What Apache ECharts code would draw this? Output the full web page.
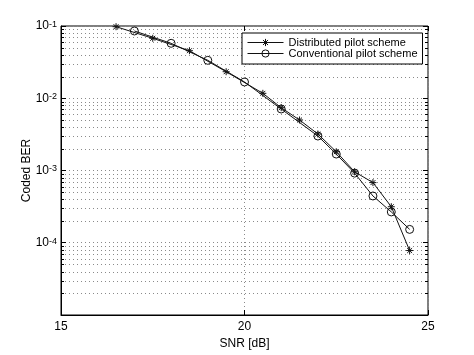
<!DOCTYPE html>
<html>
<head>
<meta charset="utf-8">
<script src="https://cdn.jsdelivr.net/npm/echarts@6/dist/echarts.min.js"></script>
<style>html,body{margin:0;padding:0;background:#fff;}#c{width:474px;height:355px;}</style>
</head>
<body>
<div id="c"></div>
<script>
// Data
const distSNR = [16.5, 17.5, 18.5, 19.5, 20.5, 21.0, 21.5, 22.0, 22.5, 23.0, 23.5, 24.0, 24.5];
const distBER = [0.0978, 0.0676, 0.0455, 0.0233, 0.0117, 0.0074, 0.0050, 0.0032, 0.00182, 0.00096, 0.00068, 0.000315, 0.000078];
const convSNR = [17.0, 18.0, 19.0, 20.0, 21.0, 22.0, 22.5, 23.0, 23.5, 24.0, 24.5];
const convBER = [0.0853, 0.0576, 0.0335, 0.0168, 0.0071, 0.0030, 0.00169, 0.00092, 0.000444, 0.000267, 0.000153];
const seriesNames = ['Distributed pilot scheme', 'Conventional pilot scheme'];
const xTicks = [15, 20, 25];
const yDecades = [-5, -4, -3, -2, -1];

const X_MIN = 15, X_MAX = 25;
const FONT = "'Liberation Sans', Arial, sans-serif";

// minor grid positions on the log axis (2..9 x 10^e)
const minorVals = [];
for (let i = 0; i < yDecades.length - 1; i++) {
  for (let k = 2; k <= 9; k++) minorVals.push([X_MIN, k * Math.pow(10, yDecades[i])]);
}

const chart = echarts.init(document.getElementById('c'), null, {renderer: 'canvas'});
const starPath = 'path://M0,5L10,5M5,0L5,10M1.5,1.5L8.5,8.5M8.5,1.5L1.5,8.5';
const gridDot = {color: '#8a8a8a', width: 1, type: [1, 3]};

chart.setOption({
  backgroundColor: '#fff',
  animation: false,
  textStyle: {fontFamily: FONT},
  grid: {left: 61, top: 26, width: 367, height: 289, show: true, borderColor: '#000', borderWidth: 1, backgroundColor: 'transparent'},
  legend: {
    data: seriesNames,
    orient: 'vertical',
    left: 242, top: 33,
    padding: [4, 5, 5, 5],
    itemGap: 0,
    itemWidth: 36, itemHeight: 9,
    backgroundColor: '#fff',
    borderColor: '#000', borderWidth: 1,
    lineStyle: {width: 1, color: '#111'},
    itemStyle: {borderWidth: 1},
    textStyle: {fontFamily: FONT, fontSize: 11, color: '#000'}
  },
  xAxis: [{
    type: 'value', min: X_MIN, max: X_MAX, interval: 5,
    name: 'SNR [dB]', nameLocation: 'middle', nameGap: 18,
    nameTextStyle: {fontFamily: FONT, fontSize: 12, color: '#000'},
    axisLine: {lineStyle: {color: '#000'}},
    axisTick: {inside: true, length: 5, lineStyle: {color: '#000'}},
    axisLabel: {margin: 6, fontFamily: FONT, fontSize: 12, color: '#000',
      formatter: v => xTicks.indexOf(v) >= 0 ? String(v) : ''},
    splitLine: {show: true, lineStyle: gridDot}
  }, {
    type: 'value', min: X_MIN, max: X_MAX, interval: 5, position: 'top',
    axisLine: {show: false}, axisTick: {inside: true, length: 5, lineStyle: {color: '#000'}},
    axisLabel: {show: false}, splitLine: {show: false}
  }],
  yAxis: [{
    type: 'log', logBase: 10, min: 1e-5, max: 1e-1,
    name: 'Coded BER', nameLocation: 'middle', nameGap: 28, nameMoveOverlap: false,
    nameTextStyle: {fontFamily: FONT, fontSize: 12, color: '#000'},
    axisLine: {lineStyle: {color: '#000'}},
    axisTick: {inside: true, length: 5, lineStyle: {color: '#000'}},
    axisLabel: {
      margin: 4, color: '#000',
      formatter: v => {
        const e = Math.round(Math.log10(v));
        if (e === -5) return '';
        return '{b|10}{s|' + e + '}';
      },
      rich: {
        b: {fontFamily: FONT, fontSize: 12, lineHeight: 12, verticalAlign: 'bottom', color: '#000'},
        s: {fontFamily: FONT, fontSize: 9, lineHeight: 9, verticalAlign: 'top', padding: [0, 0, 8, 0], color: '#000'}
      }
    },
    splitLine: {show: true, lineStyle: gridDot}
  }, {
    type: 'log', logBase: 10, min: 1e-5, max: 1e-1, position: 'right',
    axisLine: {show: false}, axisTick: {inside: true, length: 5, lineStyle: {color: '#000'}},
    axisLabel: {show: false}, splitLine: {show: false}
  }],
  series: [
    {
      type: 'custom', name: 'minorGrid', silent: true, z: 1,
      xAxisIndex: 0, yAxisIndex: 0,
      encode: {x: 0, y: 1},
      data: minorVals,
      renderItem: (params, api) => {
        const v = api.value(1);
        const p0 = api.coord([X_MIN, v]);
        const p1 = api.coord([X_MAX, v]);
        const y = Math.round(p0[1]) + 0.5;
        return {type: 'group', children: [
          {type: 'line', shape: {x1: p0[0], y1: y, x2: p1[0], y2: y}, style: {stroke: '#8a8a8a', lineWidth: 1, lineDash: [1, 3]}},
          {type: 'line', shape: {x1: p0[0], y1: y, x2: p0[0] + 3, y2: y}, style: {stroke: '#000', lineWidth: 1}},
          {type: 'line', shape: {x1: p1[0] - 3, y1: y, x2: p1[0], y2: y}, style: {stroke: '#000', lineWidth: 1}}
        ]};
      }
    },
    {
      name: seriesNames[0], type: 'line', z: 3,
      data: distSNR.map((x, i) => [x, distBER[i]]),
      symbol: starPath, symbolSize: 7, showAllSymbol: true,
      lineStyle: {color: '#111', width: 1},
      itemStyle: {color: '#111', borderColor: '#111', borderWidth: 1}
    },
    {
      name: seriesNames[1], type: 'line', z: 3,
      data: convSNR.map((x, i) => [x, convBER[i]]),
      symbol: 'circle', symbolSize: 8, showAllSymbol: true,
      lineStyle: {color: '#111', width: 1},
      itemStyle: {color: 'rgba(0,0,0,0)', borderColor: '#111', borderWidth: 1}
    }
  ]
});
</script>
</body>
</html>
